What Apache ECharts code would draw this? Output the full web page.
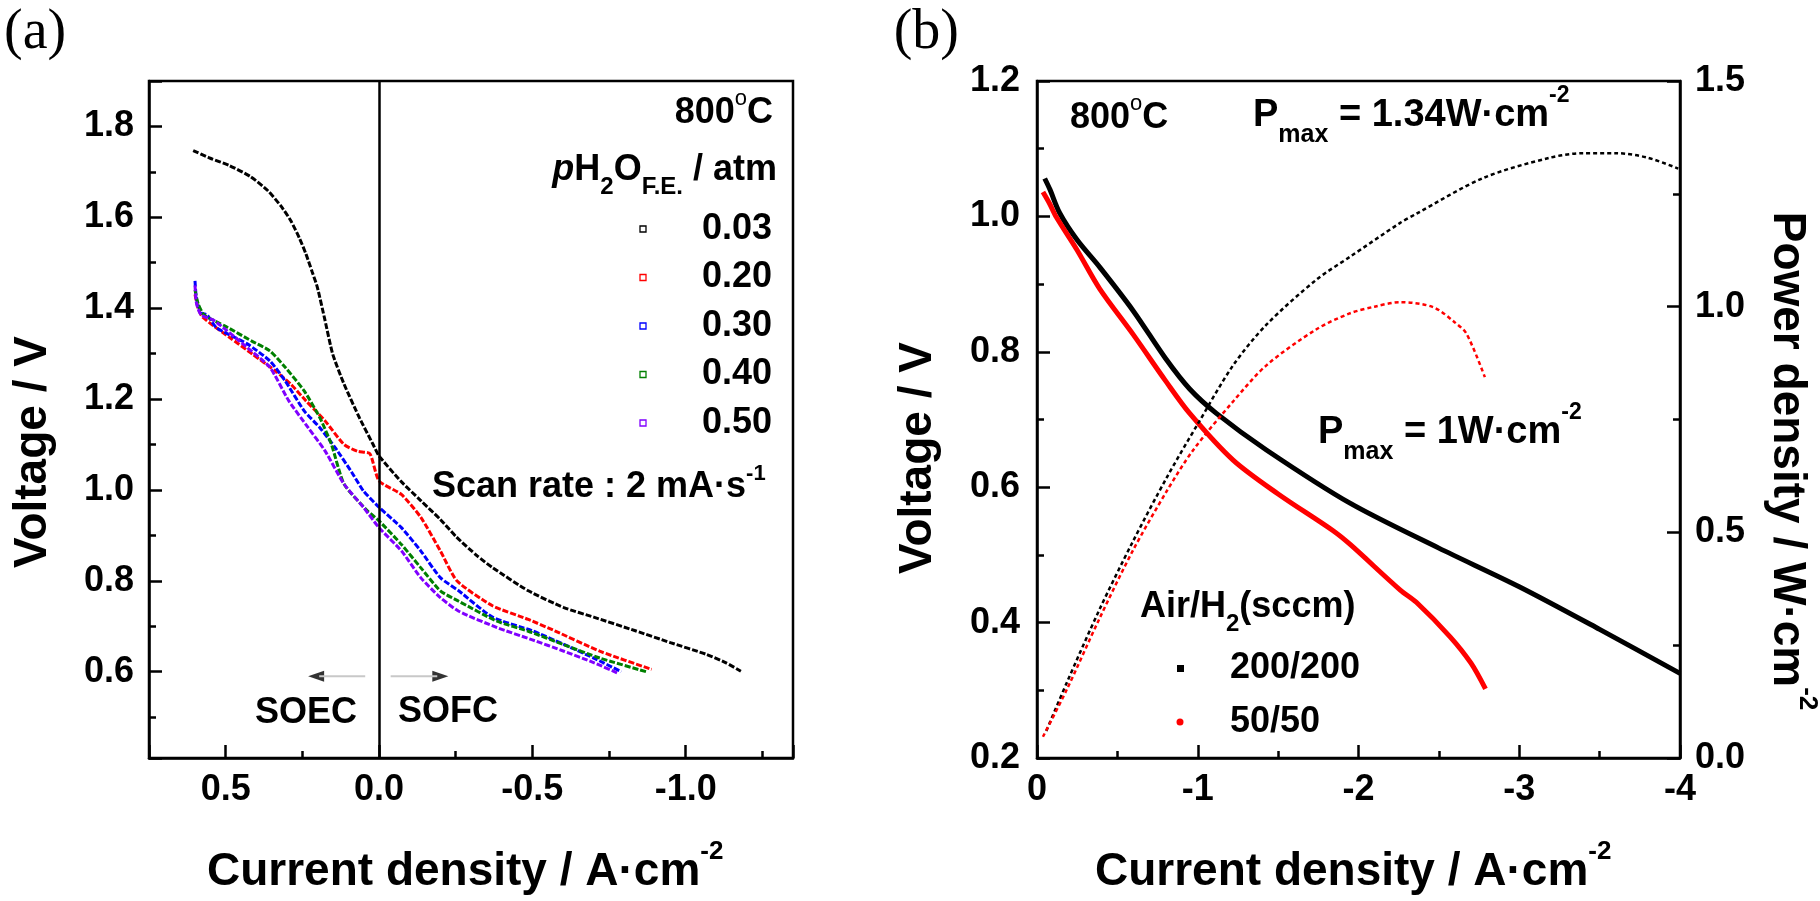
<!DOCTYPE html>
<html><head><meta charset="utf-8">
<script src="https://cdn.jsdelivr.net/npm/echarts@6/dist/echarts.min.js"></script>
<style>html,body{margin:0;padding:0;background:#fff}#c{width:1820px;height:901px}</style>
</head><body><div id="c"></div>
<script>
// ---------- Panel (a): V-I curves, x = current density (A/cm2), y = voltage (V)
const a_pH2O_labels = ['0.03', '0.20', '0.30', '0.40', '0.50'];
const a_003 = [[0.606,1.747],[0.55,1.73],[0.488,1.714],[0.42,1.69],[0.363,1.659],[0.32,1.625],[0.288,1.593],[0.26,1.555],[0.238,1.519],[0.218,1.48],[0.201,1.446],[0.176,1.373],[0.151,1.299],[0.114,1.233],[0.064,1.159],[0.02,1.101],[0.0,1.075],[-0.07,1.02],[-0.137,0.976],[-0.2,0.935],[-0.253,0.896],[-0.32,0.855],[-0.37,0.829],[-0.487,0.778],[-0.603,0.741],[-0.7,0.72],[-0.836,0.69],[-0.95,0.664],[-1.068,0.638],[-1.13,0.62],[-1.18,0.601]];
const a_020 = [[0.6,1.43],[0.59,1.40],[0.575,1.38],[0.488,1.336],[0.413,1.299],[0.338,1.262],[0.288,1.233],[0.238,1.196],[0.176,1.152],[0.114,1.10],[0.07,1.085],[0.03,1.08],[0.0,1.02],[-0.073,0.99],[-0.136,0.94],[-0.2,0.866],[-0.254,0.80],[-0.37,0.745],[-0.487,0.715],[-0.573,0.69],[-0.72,0.645],[-0.889,0.605]];
const a_030 = [[0.6,1.46],[0.595,1.42],[0.58,1.39],[0.56,1.385],[0.53,1.357],[0.431,1.322],[0.356,1.284],[0.306,1.24],[0.244,1.174],[0.193,1.137],[0.143,1.093],[0.09,1.04],[0.051,0.998],[0.0,0.962],[-0.073,0.917],[-0.136,0.866],[-0.2,0.807],[-0.26,0.778],[-0.37,0.72],[-0.5,0.69],[-0.603,0.66],[-0.7,0.63],[-0.79,0.60]];
const a_040 = [[0.6,1.44],[0.59,1.41],[0.57,1.385],[0.5,1.36],[0.416,1.328],[0.356,1.306],[0.306,1.27],[0.244,1.218],[0.193,1.159],[0.155,1.10],[0.114,1.013],[0.038,0.954],[0.0,0.932],[-0.073,0.88],[-0.136,0.829],[-0.2,0.778],[-0.26,0.755],[-0.385,0.711],[-0.487,0.689],[-0.6,0.66],[-0.72,0.63],[-0.871,0.60]];
const a_050 = [[0.6,1.45],[0.595,1.41],[0.58,1.385],[0.538,1.373],[0.431,1.314],[0.356,1.27],[0.294,1.196],[0.231,1.137],[0.176,1.086],[0.114,1.013],[0.051,0.962],[0.0,0.917],[-0.073,0.866],[-0.136,0.807],[-0.2,0.763],[-0.26,0.733],[-0.385,0.697],[-0.5,0.67],[-0.603,0.645],[-0.7,0.62],[-0.778,0.597]];
const a_arrowLeftLine = [[0.045,0.59],[0.195,0.59]];
const a_arrowRightLine = [[-0.038,0.59],[-0.19,0.59]];
const a_arrowHeads = [[0.205,0.59],[-0.20,0.59]];

// ---------- Panel (b): x = current density (A/cm2), left y = voltage, right y = power density
const b_flow_labels = ['200/200', '50/50'];
const b_V200 = [[-0.048,1.056],[-0.08,1.04],[-0.141,1.005],[-0.25,0.965],[-0.39,0.925],[-0.6,0.86],[-0.8,0.79],[-0.95,0.745],[-1.116,0.709],[-1.427,0.655],[-1.95,0.576],[-2.5,0.51],[-3.0,0.453],[-3.5,0.39],[-4.0,0.325]];
const b_V50 = [[-0.037,1.036],[-0.078,1.019],[-0.12,0.999],[-0.25,0.95],[-0.39,0.893],[-0.6,0.825],[-0.8,0.757],[-0.95,0.709],[-1.22,0.64],[-1.5,0.59],[-1.84,0.536],[-1.95,0.515],[-2.26,0.448],[-2.36,0.43],[-2.57,0.379],[-2.7,0.34],[-2.79,0.302]];
const b_P200 = [[-0.058,0.06],[-0.183,0.165],[-0.39,0.33],[-0.597,0.48],[-0.805,0.62],[-1.0,0.74],[-1.22,0.87],[-1.427,0.96],[-1.739,1.06],[-1.945,1.11],[-2.257,1.185],[-2.361,1.206],[-2.775,1.285],[-3.19,1.33],[-3.4,1.34],[-3.605,1.34],[-3.8,1.33],[-3.989,1.306]];
const b_P50 = [[-0.037,0.047],[-0.183,0.15],[-0.39,0.31],[-0.597,0.46],[-0.805,0.59],[-0.971,0.682],[-1.22,0.79],[-1.427,0.87],[-1.739,0.95],[-1.945,0.985],[-2.1,1.0],[-2.257,1.01],[-2.464,0.999],[-2.6,0.965],[-2.672,0.94],[-2.786,0.844]];

const FF = '"Liberation Sans", Arial, Helvetica, sans-serif';
const SERIF = '"Liberation Serif", "Times New Roman", serif';
const BLK = '#000';
const colorsA = ['#000000', '#ff0000', '#0000ff', '#008000', '#8000ff'];

const chart = echarts.init(document.getElementById('c'), null, {renderer: 'canvas'});

const axLine = {show: true, onZero: false, lineStyle: {color: BLK, width: 2.5}};
const tickMaj = {show: true, inside: true, length: 13, lineStyle: {color: BLK, width: 2.5}};
const minorT = {show: true, splitNumber: 2, length: 7, lineStyle: {color: BLK, width: 2.5}};
const lab = {show: true, color: BLK, fontSize: 36, fontWeight: 'bold', fontFamily: FF};
const f1 = v => Number(v).toFixed(1);

function mk(size, lh, va, weight, fstyle) {
  return {fontSize: size, lineHeight: lh, fontFamily: FF, fontWeight: weight || 'bold',
          fontStyle: fstyle || 'normal', fill: BLK, verticalAlign: va || 'middle'};
}
function txt(x, y, text, rich, align, rot) {
  return {type: 'text', x: x, y: y, rotation: rot || 0, z: 100,
          style: {text: text, rich: rich, align: align || 'left', verticalAlign: 'middle'}};
}

const graphics = [];
graphics.push({type: 'text', x: 4, y: 33, z: 100, style: {text: '(a)', fontFamily: SERIF, fontSize: 56, fill: BLK, align: 'left', verticalAlign: 'middle'}});
graphics.push({type: 'text', x: 959, y: 33, z: 100, style: {text: '(b)', fontFamily: SERIF, fontSize: 56, fill: BLK, align: 'right', verticalAlign: 'middle'}});
// panel (a) annotations
graphics.push(txt(773, 113, '{m|800}{d|o}{m|C}', {m: mk(36, 50), d: mk(22, 22, 'top', 'normal')}, 'right'));
graphics.push(txt(777, 170, '{p|p}{m|H}{s|2}{m|O}{s|F.E.}{m| / atm}', {p: mk(36, 59, 'middle', 'bold', 'italic'), m: mk(36, 59), s: mk(24, 24, 'bottom')}, 'right'));
const legY = [229, 277.5, 326, 374.5, 423];
a_pH2O_labels.forEach((t, i) => {
  graphics.push(txt(772, legY[i], '{m|' + t + '}', {m: mk(36, 44)}, 'right'));
  graphics.push({type: 'rect', z: 100, shape: {x: 640, y: legY[i] - 3, width: 6, height: 6}, style: {fill: 'none', stroke: colorsA[i], lineWidth: 1.3}});
});
graphics.push(txt(432, 487, '{m|Scan rate : 2 mA·s}{u|-1}', {m: mk(36, 48), u: mk(22, 22, 'top')}, 'left'));
graphics.push(txt(255, 713, '{m|SOEC}', {m: mk(36, 44)}, 'left'));
graphics.push(txt(398, 712, '{m|SOFC}', {m: mk(36, 44)}, 'left'));
graphics.push(txt(207, 872, '{t|Current density / A·cm}{u|-2}', {t: mk(46, 66), u: mk(26, 26, 'top')}, 'left'));
graphics.push(txt(33, 452, '{t|Voltage / V}', {t: mk(46, 56)}, 'center', Math.PI / 2));
// panel (b) annotations
graphics.push(txt(1070, 118, '{m|800}{d|o}{m|C}', {m: mk(36, 50), d: mk(22, 22, 'top', 'normal')}, 'left'));
graphics.push(txt(1253, 116, '{m|P}{s|max}{m| = 1.34W·cm}{u|-2}', {m: mk(38, 64), s: mk(25, 25, 'bottom'), u: mk(23, 23, 'top')}, 'left'));
graphics.push(txt(1318, 433, '{m|P}{s|max}{m| = 1W·cm}{u|-2}', {m: mk(38, 64), s: mk(25, 25, 'bottom'), u: mk(23, 23, 'top')}, 'left'));
graphics.push(txt(1140, 607, '{m|Air/H}{s|2}{m|(sccm)}', {m: mk(36, 59), s: mk(24, 24, 'bottom')}, 'left'));
graphics.push(txt(1230, 668, '{m|' + b_flow_labels[0] + '}', {m: mk(36, 44)}, 'left'));
graphics.push(txt(1230, 722, '{m|' + b_flow_labels[1] + '}', {m: mk(36, 44)}, 'left'));
graphics.push({type: 'rect', z: 100, shape: {x: 1177, y: 665, width: 7, height: 7}, style: {fill: '#000'}});
graphics.push({type: 'circle', z: 100, shape: {cx: 1180, cy: 722, r: 3.5}, style: {fill: '#ff0000'}});
graphics.push(txt(1095, 872, '{t|Current density / A·cm}{u|-2}', {t: mk(46, 66), u: mk(26, 26, 'top')}, 'left'));
graphics.push(txt(918, 458, '{t|Voltage / V}', {t: mk(46, 56)}, 'center', Math.PI / 2));
graphics.push(txt(1787, 461, '{t|Power density / W·cm}{u|-2}', {t: mk(46, 66), u: mk(26, 26, 'top')}, 'center', -Math.PI / 2));

function aSeries(name, data, color) {
  return {type: 'line', name: name, xAxisIndex: 0, yAxisIndex: 0, data: data, symbol: 'none', showSymbol: false,
          smooth: 0.2, lineStyle: {color: color, width: 3, type: [6, 2]}, z: 3};
}

const seriesA = [
  aSeries('0.03', a_003, colorsA[0]),
  aSeries('0.20', a_020, colorsA[1]),
  aSeries('0.30', a_030, colorsA[2]),
  aSeries('0.40', a_040, colorsA[3]),
  aSeries('0.50', a_050, colorsA[4])
];
seriesA[0].markLine = {silent: true, symbol: ['none', 'none'], label: {show: false},
  lineStyle: {color: BLK, width: 2.5, type: 'solid'}, data: [{xAxis: 0}]};

const option = {
  animation: false,
  backgroundColor: '#fff',
  grid: [
    {left: 149, top: 81, width: 644, height: 677, show: true, borderColor: BLK, borderWidth: 2.5, backgroundColor: 'transparent', outerBoundsMode: 'none', containLabel: false},
    {left: 1037, top: 81, width: 643, height: 677, show: true, borderColor: BLK, borderWidth: 2.5, backgroundColor: 'transparent', outerBoundsMode: 'none', containLabel: false}
  ],
  xAxis: [
    {gridIndex: 0, type: 'value', min: -1.35, max: 0.75, splitNumber: 4, inverse: true, position: 'bottom', axisLine: axLine,
     axisTick: tickMaj, minorTick: minorT,
     axisLabel: Object.assign({}, lab, {margin: 14, formatter: f1, showMinLabel: false, showMaxLabel: false}),
     splitLine: {show: false}, minorSplitLine: {show: false}},
    {gridIndex: 1, type: 'value', min: -4, max: 0, interval: 1, inverse: true, position: 'bottom', axisLine: axLine,
     axisTick: tickMaj, minorTick: minorT, axisLabel: Object.assign({}, lab, {margin: 14, formatter: v => String(v)}),
     splitLine: {show: false}, minorSplitLine: {show: false}}
  ],
  yAxis: [
    {gridIndex: 0, type: 'value', min: 0.41, max: 1.9, splitNumber: 7, position: 'left', axisLine: axLine,
     axisTick: tickMaj, minorTick: minorT,
     axisLabel: Object.assign({}, lab, {margin: 15, formatter: f1, showMinLabel: false, showMaxLabel: false}),
     splitLine: {show: false}, minorSplitLine: {show: false}},
    {gridIndex: 1, type: 'value', min: 0.2, max: 1.2, interval: 0.2, position: 'left', axisLine: axLine,
     axisTick: tickMaj, minorTick: minorT, axisLabel: Object.assign({}, lab, {margin: 17, formatter: f1}),
     splitLine: {show: false}, minorSplitLine: {show: false}},
    {gridIndex: 1, type: 'value', min: 0, max: 1.5, interval: 0.5, position: 'right', axisLine: axLine,
     axisTick: tickMaj, minorTick: minorT, axisLabel: Object.assign({}, lab, {margin: 15, formatter: f1, padding: [14, 0, 0, 0]}),
     splitLine: {show: false}, minorSplitLine: {show: false}}
  ],
  series: seriesA.concat([
    {type: 'line', name: 'arrowL', xAxisIndex: 0, yAxisIndex: 0, data: a_arrowLeftLine, symbol: 'none', lineStyle: {color: '#c8c8c8', width: 2}},
    {type: 'line', name: 'arrowR', xAxisIndex: 0, yAxisIndex: 0, data: a_arrowRightLine, symbol: 'none', lineStyle: {color: '#c8c8c8', width: 2}},
    {type: 'scatter', name: 'heads', xAxisIndex: 0, yAxisIndex: 0, symbol: 'triangle', symbolSize: [11, 16],
     itemStyle: {color: BLK}, data: [{value: a_arrowHeads[0], symbolRotate: 90}, {value: a_arrowHeads[1], symbolRotate: -90}]},
    {type: 'line', name: 'V 200/200', xAxisIndex: 1, yAxisIndex: 1, data: b_V200, symbol: 'none', smooth: 0.3, lineStyle: {color: '#000', width: 5}},
    {type: 'line', name: 'V 50/50', xAxisIndex: 1, yAxisIndex: 1, data: b_V50, symbol: 'none', smooth: 0.3, lineStyle: {color: '#ff0000', width: 5}},
    {type: 'line', name: 'P 200/200', xAxisIndex: 1, yAxisIndex: 2, data: b_P200, symbol: 'none', smooth: 0.3, lineStyle: {color: '#000', width: 2.5, type: [4, 3]}},
    {type: 'line', name: 'P 50/50', xAxisIndex: 1, yAxisIndex: 2, data: b_P50, symbol: 'none', smooth: 0.3, lineStyle: {color: '#ff0000', width: 2.5, type: [4, 3]}}
  ]),
  graphic: graphics
};
chart.setOption(option);
</script>
</body></html>
